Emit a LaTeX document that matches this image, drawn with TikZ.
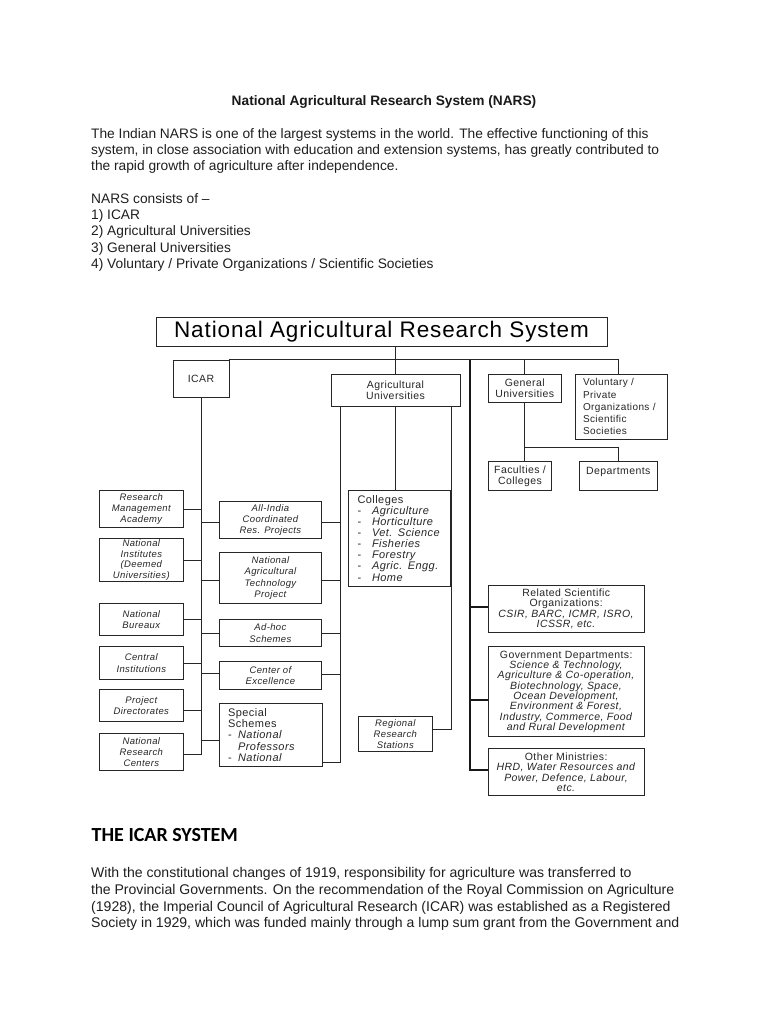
\documentclass[tikz,border=0pt]{standalone}
\usepackage{fontspec}
\setmainfont{Liberation Sans}
\newfontfamily\dg[LetterSpace=4]{Liberation Sans}
\newfontfamily\cb{Carlito}
\usetikzlibrary{calc}
\begin{document}
\begin{tikzpicture}[x=1pt,y=-1pt,
  box/.style={draw=black!85, line width=0.8pt, inner sep=0pt, align=center, text=black!85},
  bx/.style 2 args={box, minimum width=#1pt, minimum height=#2pt},
  ln/.style={draw=black!85, line width=0.8pt},
  thk/.style={draw=black!90, line width=2pt},
  up/.style={font=\dg\fontsize{10.5}{11}\selectfont},
  it/.style={font=\dg\itshape\fontsize{9.5}{11.2}\selectfont},
  lg/.style={font=\dg\fontsize{10.5}{10.35}\selectfont},
  body/.style={anchor=north west, inner sep=0pt, align=left, text=black!88,
    font=\fontsize{13.75}{16.2}\selectfont}
]
\useasboundingbox[fill=white] (0,0) rectangle (768,1024);

% ---------- page text ----------
\node[inner sep=0pt, text=black!90, font=\bfseries\fontsize{13.7}{16}\selectfont] (h1) at (384,101.7)
  {National Agricultural Research System (NARS)};
\node[body] (p1) at (91,128.3)
  {The Indian NARS is one of the largest systems in the world. The effective functioning of this\\
   system, in close association with education and extension systems, has greatly contributed to\\
   the rapid growth of agriculture after independence.};
\node[body] (p2) at (91,193.3)
  {NARS consists of --\\1) ICAR\\2) Agricultural Universities\\3) General Universities\\
   4) Voluntary / Private Organizations / Scientific Societies};
\node[anchor=base west, inner sep=0pt, text=black, font=\cb\bfseries\fontsize{20}{24}\selectfont] (h2) at (91.5,841.6)
  {THE ICAR SYSTEM};
\node[body, font=\fontsize{14.05}{16.67}\selectfont] (p3) at (91,867.3)
  {With the constitutional changes of 1919, responsibility for agriculture was transferred to\\
   the Provincial Governments. On the recommendation of the Royal Commission on Agriculture\\
   (1928), the Imperial Council of Agricultural Research (ICAR) was established as a Registered\\
   Society in 1929, which was funded mainly through a lump sum grant from the Government and};

% ---------- diagram boxes ----------
\node[bx={451}{29}, font=\dg\fontsize{22.5}{26}\selectfont, text=black] (title) at (381.5,331.5)
  {National Agricultural Research System};
\node[bx={56}{37}, up] (ICAR) at (201,378.5) {ICAR};
\node[bx={129}{32}, up] (AgU) at (395.5,390.7) {Agricultural\\Universities};
\node[bx={73}{28.3}, up] (GenU) at (524.8,388.2) {General\\Universities};
\node[bx={91.6}{65.3}, font=\dg\fontsize{10}{12.2}\selectfont, align=left, text width=77pt] (Vol) at (621.5,406.7)
  {Voluntary /\\Private\\Organizations /\\Scientific\\Societies};
\node[bx={63.4}{29}, up] (Fac) at (520,476.2) {Faculties /\\Colleges};
\node[bx={78}{29}, up, text depth=10pt] (Dep) at (618.3,476.2) {Departments};

\node[bx={84}{37.7}, it] (RMA) at (141.3,508.9) {Research\\Management\\Academy};
\node[bx={84}{43.4}, it, font=\dg\itshape\fontsize{9.5}{10.6}\selectfont] (NatI) at (141.3,560) {National\\Institutes\\(Deemed\\Universities)};
\node[bx={84}{31.7}, it] (NatB) at (141.3,619.2) {National\\Bureaux};
\node[bx={84}{32.6}, it] (Cent) at (141.3,663) {Central\\Institutions};
\node[bx={84}{32.4}, it] (Proj) at (141.3,705.5) {Project\\Directorates};
\node[bx={84}{37.4}, it] (NRC) at (141.3,752) {National\\Research\\Centers};

\node[bx={102.7}{36.6}, it] (AllI) at (270.4,520) {All-India\\Coordinated\\Res. Projects};
\node[bx={102.7}{50.6}, it] (NATP) at (270.4,578) {National\\Agricultural\\Technology\\Project};
\node[bx={102.7}{27.4}, it] (Adhoc) at (270.4,633) {Ad-hoc\\Schemes};
\node[bx={102.7}{27.6}, it] (CoE) at (270.4,675.5) {Center of\\Excellence};
\node[bx={103.3}{63.4}, font=\dg\fontsize{11}{11.1}\selectfont, align=left, text width=85pt] (Spec) at (270.6,735)
  {Special\\Schemes\\\makebox[10pt][l]{-}\textit{National}\\\makebox[10pt][l]{}\textit{Professors}\\\makebox[10pt][l]{-}\textit{National}};

\node[bx={102.4}{95.3}, font=\dg\fontsize{11}{11.1}\selectfont, align=left, text width=84pt] (Coll) at (399.5,538.3)
  {Colleges\\
   \makebox[14.5pt][l]{-}\textit{Agriculture}\\
   \makebox[14.5pt][l]{-}\textit{Horticulture}\\
   \makebox[14.5pt][l]{-}\textit{Vet. Science}\\
   \makebox[14.5pt][l]{-}\textit{Fisheries}\\
   \makebox[14.5pt][l]{-}\textit{Forestry}\\
   \makebox[14.5pt][l]{-}\textit{Agric. Engg.}\\
   \makebox[14.5pt][l]{-}\textit{Home}};
\node[bx={74}{35.7}, it] (Reg) at (395.3,733.8) {Regional\\Research\\Stations};

\node[bx={155.7}{47.3}, lg] (RSO) at (566.2,608.7)
  {Related Scientific\\Organizations:\\\textit{CSIR, BARC, ICMR, ISRO,}\\\textit{ICSSR, etc.}};
\node[bx={155.7}{90}, lg] (GD) at (566.2,691.7)
  {Government Departments:\\\textit{Science \& Technology,}\\\textit{Agriculture \& Co-operation,}\\
   \textit{Biotechnology, Space,}\\\textit{Ocean Development,}\\\textit{Environment \& Forest,}\\
   \textit{Industry, Commerce, Food}\\\textit{and Rural Development}};
\node[bx={155.7}{47.4}, lg, font=\dg\fontsize{10.5}{10.5}\selectfont] (OM) at (566.2,772)
  {Other Ministries:\\\textit{HRD, Water Resources and}\\\textit{Power, Defence, Labour,}\\\textit{etc.}};

% ---------- connectors ----------
\draw[ln] (title.south -| AgU.north) -- (AgU.north);
\coordinate (busR) at (Dep.north |- ICAR.north);
\draw[ln] (ICAR.north east) -- (busR) -- (busR |- Vol.north);
\draw[ln] (GenU.north |- ICAR.north) -- (GenU.north);

% thick trunk to related organisations
\coordinate (tk) at (470,360);
\coordinate (omc) at ([yshift=2pt]OM.west);
\coordinate (rsc) at ([yshift=2pt]RSO.west);
\coordinate (gdc) at ([yshift=-8.3pt]GD.west);
\draw[thk] (tk) -- (tk |- omc) -- (omc);
\draw[thk] (rsc -| tk) -- (rsc);
\draw[thk] (gdc -| tk) -- (gdc);

% ICAR tree
\coordinate (nrc) at ([yshift=-2.3pt]NRC.east);
\draw[ln] (ICAR.south) -- (ICAR.south |- nrc) -- (nrc);
\foreach \n in {RMA,NatI,NatB,Cent} \draw[ln] (\n.east) -- (\n.east -| ICAR.south);
\coordinate (pj) at ([yshift=-5.2pt]Proj.east);
\draw[ln] (pj) -- (pj -| ICAR.south);
\coordinate (ail) at ([yshift=-2.7pt]AllI.west);
\coordinate (nal) at ([yshift=-2pt]NATP.west);
\coordinate (adl) at (Adhoc.west);
\coordinate (cel) at ([yshift=2pt]CoE.west);
\coordinate (spl) at ([yshift=-5.7pt]Spec.west);
\foreach \c in {ail,nal,adl,cel,spl} \draw[ln] (\c -| ICAR.south) -- (\c);

% Agricultural universities tree
\coordinate (av) at ([xshift=10pt]AgU.south west);
\coordinate (spr) at ([yshift=-27.7pt]Spec.east);
\draw[ln] (av) -- (av |- spr) -- (spr);
\coordinate (air) at ([yshift=-2.7pt]AllI.east);
\coordinate (nar) at ([yshift=-2pt]NATP.east);
\coordinate (adr) at (Adhoc.east);
\coordinate (cer) at ([yshift=1.5pt]CoE.east);
\foreach \c in {air,nar,adr,cer} \draw[ln] (\c) -- (\c -| av);
\draw[ln] (AgU.south) -- (AgU.south |- Coll.north);
\coordinate (aw) at ([xshift=-9pt]AgU.south east);
\coordinate (rg) at ([yshift=4.5pt]Reg.east);
\draw[ln] (aw) -- (aw |- rg) -- (rg);

% General universities tree
\draw[ln] (GenU.south) -- (GenU.south |- Fac.north);
\coordinate (gs) at ([yshift=-44.4pt]GenU.south);
\draw[ln] (gs) -| (Dep.north);
\end{tikzpicture}
\end{document}
